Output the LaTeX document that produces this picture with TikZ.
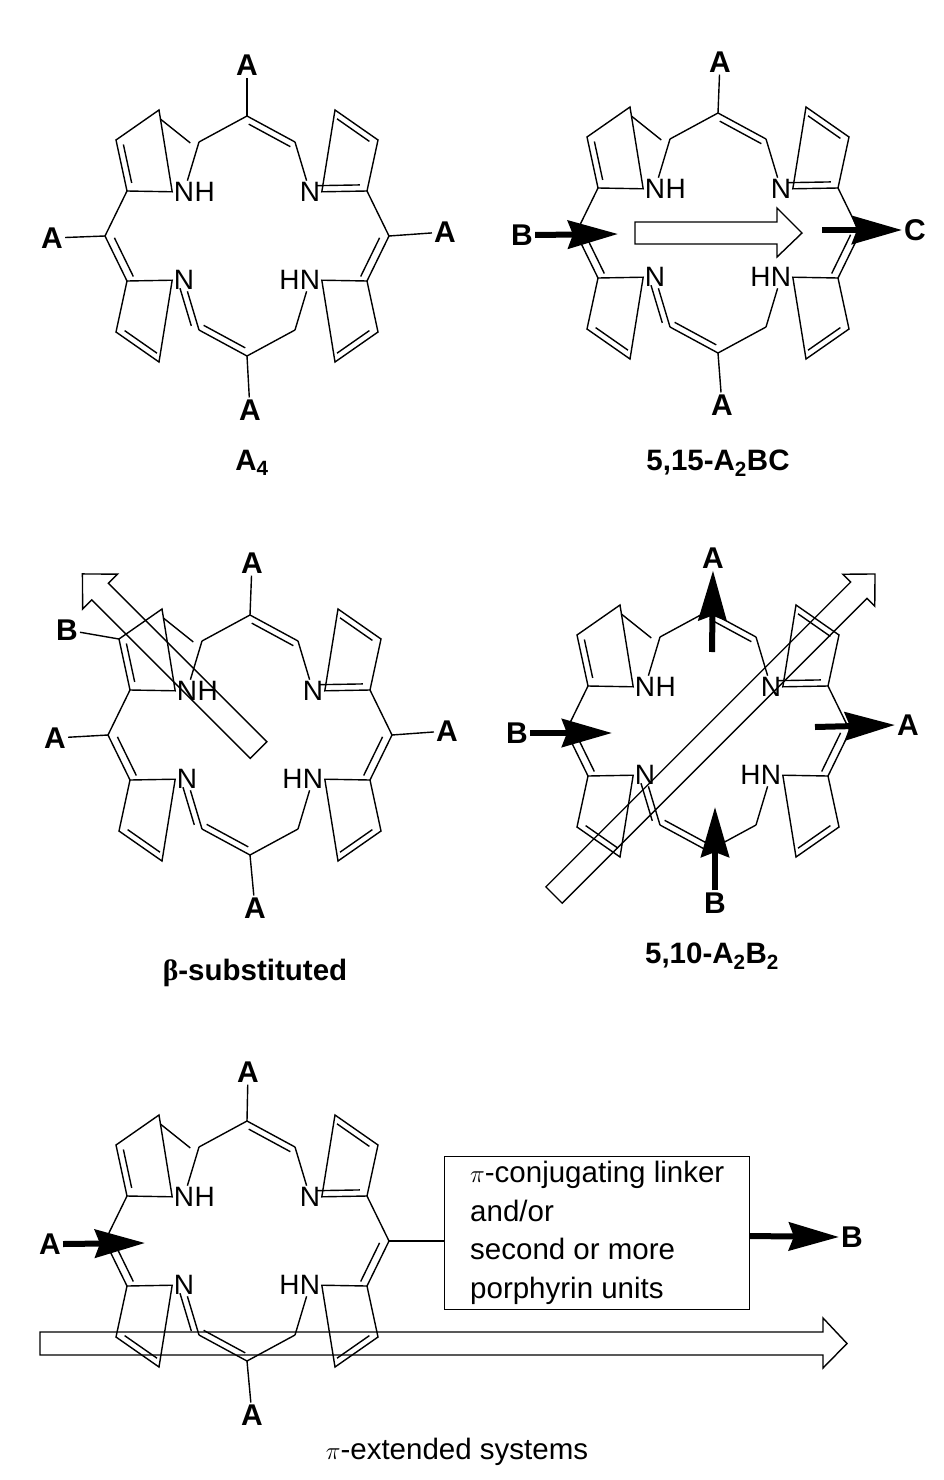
\documentclass[tikz,border=0pt]{standalone}
\usepackage{fontspec}
\setmainfont{Liberation Sans}
\newfontfamily\serifgreek{Liberation Serif}
\usetikzlibrary{calc,arrows.meta}
\tikzset{
  bond/.style={line width=1.4pt},
  atom/.style={font=\fontsize{28}{30}\selectfont, inner sep=1.5pt},
  hatom/.style={font=\fontsize{28}{30}\selectfont, inner sep=0pt, anchor=west, xshift=-1.5pt},
  hatoml/.style={font=\fontsize{28}{30}\selectfont, inner sep=0pt, anchor=east, xshift=1.5pt},
  sub/.style={font=\bfseries\fontsize{30}{32}\selectfont, inner sep=2pt},
  captxt/.style={font=\bfseries\fontsize{29.5}{32}\selectfont, inner sep=0pt},
  bigarr/.style={line width=6pt, -{Stealth[length=50pt,width=28pt,inset=5pt]}},
  openarr/.style={line width=1.4pt, line join=miter},
}
\newcommand\dbl[4]{\draw[bond, shorten <=2pt, shorten >=2pt] ($(#3)!#4!(#1)$) -- ($(#3)!#4!(#2)$);}
\newcommand\porph[3]{%
\begin{scope}[shift={(#1,#2)}]
  \coordinate (#3o) at (0,0);
  \coordinate (#3mt) at (0,-120);
  \coordinate (#3mb) at (0,120);
  \coordinate (#3ml) at (-142,0);
  \coordinate (#3mr) at (142,0);
  \foreach \q/\sx/\sy in {1/-1/-1,2/1/-1,3/1/1,4/-1/1}{
    \coordinate (#3q\q a) at (48*\sx,94*\sy);
    \coordinate (#3q\q c) at (120*\sx,45*\sy);
    \coordinate (#3q\q d) at (131*\sx,96*\sy);
    \coordinate (#3q\q b) at (88*\sx,126*\sy);
    \coordinate (#3q\q o) at (90*\sx,81*\sy);
    \node[atom] (#3q\q n) at (63*\sx,44*\sy) {N};
  }
  \node[hatom] (#3h1) at (#3q1n.east) {H};
  \node[hatoml] (#3h3) at (#3q3n.west) {H};
  \foreach \q in {1,2,3,4}{
    \draw[bond] (#3q\q a) -- (#3q\q n) -- (#3q\q c) -- (#3q\q d) -- (#3q\q b) -- cycle;
  }
  \draw[bond] (#3q1a) -- (#3mt) -- (#3q2a);
  \draw[bond] (#3q2c) -- (#3mr) -- (#3q3c);
  \draw[bond] (#3q3a) -- (#3mb) -- (#3q4a);
  \draw[bond] (#3q4c) -- (#3ml) -- (#3q1c);
  \dbl{#3q1b}{#3q1a}{#3q1o}{0.83}
  \dbl{#3q1c}{#3q1d}{#3q1o}{0.83}
  \dbl{#3mt}{#3q2a}{#3o}{0.94}
  \dbl{#3q2n.center}{#3q2c}{#3q2o}{0.83}
  \dbl{#3q2d}{#3q2b}{#3q2o}{0.83}
  \dbl{#3mr}{#3q3c}{#3o}{0.94}
  \dbl{#3q3d}{#3q3b}{#3q3o}{0.83}
  \dbl{#3mb}{#3q4a}{#3o}{0.94}
  \dbl{#3q4n.center}{#3q4a}{#3q4o}{0.83}
  \dbl{#3q4d}{#3q4b}{#3q4o}{0.83}
  \dbl{#3ml}{#3q4c}{#3o}{0.94}
\end{scope}}
\begin{document}
\begin{tikzpicture}[x=1pt,y=-1pt]
\useasboundingbox (0,0) rectangle (943,1480);
\fill[white] (0,0) rectangle (943,1480);

% ---------- P1: A4
\porph{247}{236}{a}
\node[sub] (aA1) at (247,65) {A};
\node[sub] (aA2) at (52,238) {A};
\node[sub] (aA3) at (445,232) {A};
\node[sub] (aA4) at (250,410) {A};
\draw[bond] (amt) -- (aA1);
\draw[bond] (aml) -- (aA2);
\draw[bond] (amr) -- (aA3);
\draw[bond] (amb) -- (aA4);
\node[captxt] (acap) at (252,463) {A\textsubscript{4}};

% ---------- P2: 5,15-A2BC
\porph{718}{233}{b}
\node[sub] (bA1) at (720,62) {A};
\node[sub] (bA4) at (722,405) {A};
\draw[bond] (bmt) -- (bA1);
\draw[bond] (bmb) -- (bA4);
\node[sub] (bB) at (522,235) {B};
\coordinate (bBt) at (618,234);
\draw[bigarr] (bB.east) -- (bBt);
\coordinate (bC0) at (822,230);
\node[sub] (bC) at (915,230) {C};
\draw[bigarr] (bC0) -- (bC.west);
\draw[openarr] (635,222) -- (777,222) -- (777,208) -- (802,233) -- (777,257) -- (777,244) -- (635,244) -- cycle;
\node[captxt] (bcap) at (718,463) {5,15-A\textsubscript{2}BC};

% ---------- P3: beta-substituted
\porph{250}{735}{c}
\node[sub] (cA1) at (252,563) {A};
\node[sub] (cA2) at (55,738) {A};
\node[sub] (cA3) at (447,731) {A};
\node[sub] (cA4) at (255,908) {A};
\draw[bond] (cmt) -- (cA1);
\draw[bond] (cml) -- (cA2);
\draw[bond] (cmr) -- (cA3);
\draw[bond] (cmb) -- (cA4);
\node[sub] (cB) at (67,630) {B};
\draw[bond] (cB) -- (cq1d);
\begin{scope}[shift={(258.5,750)}, rotate=135]
\draw[openarr] (0,-11.7) -- (224,-11.7) -- (224,-24.7) -- (249,0) -- (224,24.7) -- (224,11.7) -- (0,11.7) -- cycle;
\end{scope}
\node[captxt] (ccap) at (255,973) {{\serifgreek β}-substituted};

% ---------- P4: 5,10-A2B2
\porph{708}{731}{d}
\node[sub] (dA1) at (713,558) {A};
\coordinate (dA10) at (712,652);
\draw[bigarr] (dA10) -- (dA1.south);
\node[sub] (dB1) at (517,733) {B};
\coordinate (dB1t) at (612,733);
\draw[bigarr] (dB1.east) -- (dB1t);
\coordinate (dA20) at (815,727);
\node[sub] (dA2) at (908,725) {A};
\draw[bigarr] (dA20) -- (dA2.west);
\node[sub] (dB2) at (715,903) {B};
\coordinate (dB2t) at (715,807);
\draw[bigarr] (dB2.north) -- (dB2t);
\begin{scope}[shift={(554,895)}, rotate=45]
\draw[openarr] (0,-11.5) -- (431,-11.5) -- (431,-22.6) -- (454,0) -- (431,22.6) -- (431,11.5) -- (0,11.5) -- cycle;
\end{scope}
\node[captxt] (dcap) at (712,956) {5,10-A\textsubscript{2}B\textsubscript{2}};

% ---------- P5: pi-extended
\porph{247}{1241}{e}
\node[sub] (eA1) at (248,1072) {A};
\node[sub] (eA4) at (252,1415) {A};
\draw[bond] (emt) -- (eA1);
\draw[bond] (emb) -- (eA4);
\node[sub] (eA2) at (50,1244) {A};
\coordinate (eA2t) at (145,1243);
\draw[bigarr] (eA2.east) -- (eA2t);
\node[draw, line width=1.4pt, minimum width=305pt, minimum height=153pt, inner sep=0pt] (ebox) at (597,1233) {};
\node[font=\fontsize{29.5}{38.5}\selectfont, align=left, anchor=west, inner sep=0pt] (etext) at (470,1233)
  {$\pi$-conjugating linker\\and/or\\second or more\\porphyrin units};
\draw[bond] (emr) -- (ebox.west |- emr);
\node[sub] (eB) at (852,1237) {B};
\coordinate (eB0) at (750,1236);
\draw[bigarr] (eB0) -- (eB.west);
\draw[openarr] (40,1332) -- (823,1332) -- (823,1318) -- (847,1343.5) -- (823,1368) -- (823,1355) -- (40,1355) -- cycle;
\node[font=\fontsize{29.5}{32}\selectfont] (ecap) at (457,1452) {$\pi$-extended systems};
\end{tikzpicture}
\end{document}
